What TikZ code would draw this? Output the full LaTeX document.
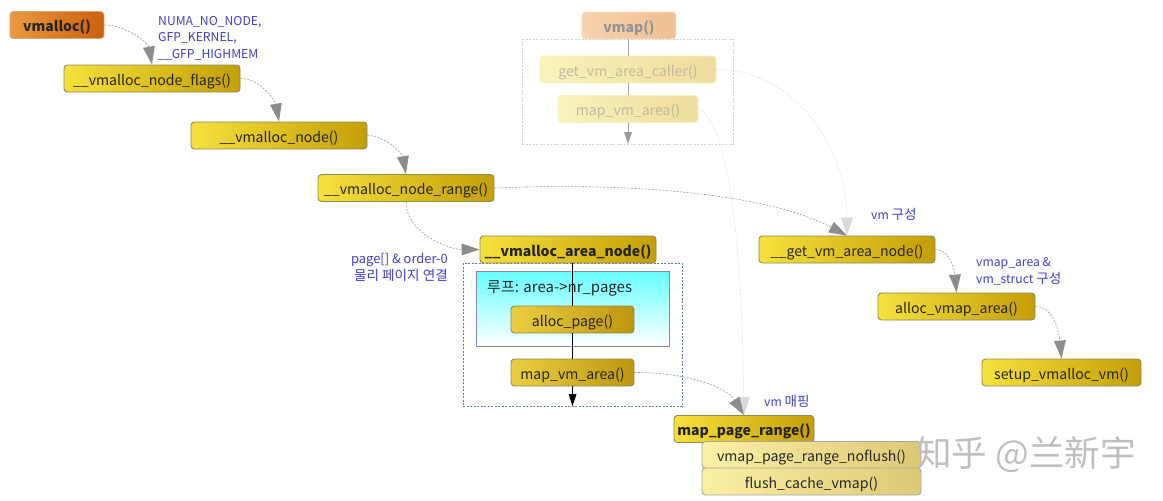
\documentclass[tikz,border=0pt]{standalone}
\usepackage{fontspec}
\setmainfont{Noto Sans CJK KR}
\newfontfamily\zhfont{Noto Sans CJK SC}
\usetikzlibrary{arrows.meta}
\definecolor{lblue}{HTML}{3F3FC8}
\definecolor{fadetext}{HTML}{BDB9A0}
\definecolor{yl}{HTML}{F6E13C}
\definecolor{yr}{HTML}{C49E08}
\definecolor{yl2}{HTML}{EBCF40}
\definecolor{yr2}{HTML}{BE9610}
\definecolor{edge}{HTML}{8A8A5A}
\definecolor{ol}{HTML}{EA9A3E}
\definecolor{or}{HTML}{CC5F0E}
\definecolor{pl}{HTML}{FBF0A4}
\definecolor{pr}{HTML}{DCC976}
\definecolor{fl}{HTML}{F9F3BC}
\definecolor{fr}{HTML}{EEDD9C}
\definecolor{ofl}{HTML}{F6D4B0}
\definecolor{ofr}{HTML}{F0BE92}
\definecolor{loopedge}{HTML}{647DAA}
\newcommand{\kr}[1]{{\fontsize{13.6}{16.5}\selectfont #1}}
\tikzset{
  x=1pt,y=-1pt,
  fn/.style={draw=#1,line width=.9pt,rounded corners=3.5pt,inner sep=0pt,minimum height=27pt,anchor=center,text=black!85,text height=15pt,text depth=2pt,font=\fontsize{14.1}{16}\selectfont},
  fn/.default=edge,
  yel/.style={fn,left color=yl,right color=yr},
  yelb/.style={yel,font=\fontsize{14}{16}\selectfont\bfseries},
  yin/.style={yel,left color=yl2,right color=yr2},
  org/.style={fn=brown!70,left color=ol,right color=or,font=\fontsize{14}{16}\selectfont\bfseries},
  pale/.style={fn=gray!70,left color=pl,right color=pr},
  fad/.style={fn=gray!30!yellow!30!white,left color=fl,right color=fr,text=fadetext},
  fado/.style={fn=orange!25,left color=ofl,right color=ofr,text=gray!85,font=\fontsize{14}{16}\selectfont\bfseries},
  lbl/.style={text=lblue,align=left,anchor=west,inner sep=0pt,font=\fontsize{12.2}{16.5}\selectfont},
  dbox/.style={draw=#1,dash pattern=on 2pt off 1.5pt,line width=.8pt,inner sep=0pt,anchor=north west},
  flow/.style={draw=gray!80,line width=.6pt,dash pattern=on 2pt off 1.5pt,-{Triangle[length=18pt,width=12pt,color=gray!90,line width=0pt]}},
  ffade/.style={draw=gray!25,line width=.6pt,dash pattern=on 2pt off 1.5pt,-{Triangle[length=18pt,width=12pt,color=gray!30,line width=0pt]}},
}
\begin{document}
\begin{tikzpicture}
\useasboundingbox (0,0) rectangle (1163,501);
% frames
\node[dbox=gray!35,minimum width=211pt,minimum height=105pt] (fadebox) at (522,39) {};
\node[dbox=loopedge,minimum width=219pt,minimum height=143pt] (loopbox) at (463,263) {};
\node[draw=blue!20!gray!80,line width=.7pt,top color=cyan!60!white,bottom color=white,minimum width=193pt,minimum height=75pt,inner sep=0pt,anchor=north west] (cyanbox) at (476,271) {};
\node[anchor=west,inner sep=0pt,font=\fontsize{15}{16}\selectfont,text=black!85] (looplabel) at (487,288) {루프: area->nr\_pages};
% main nodes
\node[org,minimum width=94pt] (vmalloc) at (57,25) {vmalloc()};
\node[yel,minimum width=176pt] (flags) at (152,78.5) {\_\_vmalloc\_node\_flags()};
\node[yel,minimum width=176pt] (vnode) at (279,135.5) {\_\_vmalloc\_node()};
\node[yel,minimum width=176pt] (range) at (406,188) {\_\_vmalloc\_node\_range()};
\node[yelb,minimum width=176pt] (area) at (568,249.5) {\_\_vmalloc\_area\_node()};
\node[yin,minimum width=123pt] (alloc) at (572.5,319.5) {alloc\_page()};
\node[yin,minimum width=123pt] (mapvm) at (572.5,372.5) {map\_vm\_area()};
\node[yel,minimum width=176pt] (getvm) at (847,249.5) {\_\_get\_vm\_area\_node()};
\node[yel,minimum width=157pt] (vmaparea) at (956.5,306.5) {alloc\_vmap\_area()};
\node[yel,minimum width=159pt] (setup) at (1061.5,372.5) {setup\_vmalloc\_vm()};
\node[yelb,minimum width=140pt] (mpr) at (744,429) {map\_page\_range()};
\node[pale,minimum width=219pt] (noflush) at (811.5,455) {vmap\_page\_range\_noflush()};
\node[pale,minimum width=219pt] (flushc) at (811.5,481.5) {flush\_cache\_vmap()};
% faded nodes
\node[fado,minimum width=94pt] (vmap) at (629,25.5) {vmap()};
\node[fad,minimum width=176pt] (caller) at (628,69.5) {get\_vm\_area\_caller()};
\node[fad,minimum width=140pt] (fmap) at (628,109) {map\_vm\_area()};
\coordinate (fend) at (628,144);
\coordinate (bend) at (572.5,406);
% labels
\node[lbl] (l1) at (158,38) {NUMA\_NO\_NODE,\\GFP\_KERNEL,\\\_\_GFP\_HIGHMEM};
\node[lbl,align=right,anchor=east,font=\fontsize{12.9}{16.5}\selectfont] (l2) at (448,267.5) {page[] \& order-0\\\kr{물리 페이지 연결}};
\node[lbl] (l3) at (871,214) {vm \kr{구성}};
\node[lbl] (l4) at (976,271.5) {vmap\_area \&\\vm\_struct \kr{구성}};
\node[lbl] (l5) at (764,401) {vm \kr{매핑}};
% faded connectors
\draw[ffade] (caller.east) to[out=0,in=90,looseness=1] (getvm.north);
\draw[ffade] (fmap.east) .. controls (730,125) and (742,250) .. (mpr.north);
\draw[gray!70,line width=.7pt] (caller.north |- vmap.south) -- (caller.north);
\draw[gray!70,line width=.7pt] (caller) -- (fmap);
\draw[gray!80,line width=.7pt,-{Triangle[length=12pt,width=8pt,color=gray!80,line width=0pt]}] (fmap) -- (fend);
% connectors
\draw[flow] (vmalloc.east) to[out=0,in=100,looseness=.9] (flags.north);
\draw[flow] (flags.east) to[out=0,in=100,looseness=.9] (vnode.north);
\draw[flow] (vnode.east) to[out=0,in=100,looseness=.9] (range.north);
\draw[flow] (range.south) to[out=-90,in=180,looseness=.9] (area.west);
\draw[flow] (range.east) .. controls (640,182) and (770,195) .. (getvm.north);
\draw[flow] (getvm.east) to[out=0,in=95,looseness=.9] (vmaparea.north);
\draw[flow] (vmaparea.east) to[out=0,in=95,looseness=.9] (setup.north);
\draw[flow] (mapvm.east) .. controls (680,372) and (725,385) .. (mpr.north);
\draw[black,line width=.8pt] (alloc.north |- area.south) -- (alloc.north);
\draw[black,line width=.8pt] (alloc) -- (mapvm);
\draw[black,line width=.8pt,-{Triangle[length=12pt,width=8pt,color=black,line width=0pt]}] (mapvm) -- (bend);
% watermark
\node[anchor=center,inner sep=0pt,text=gray!50,font=\zhfont\fontsize{35.6}{38}\selectfont] (wm) at (1026,455) {知乎 @兰新宇};
\end{tikzpicture}
\end{document}
